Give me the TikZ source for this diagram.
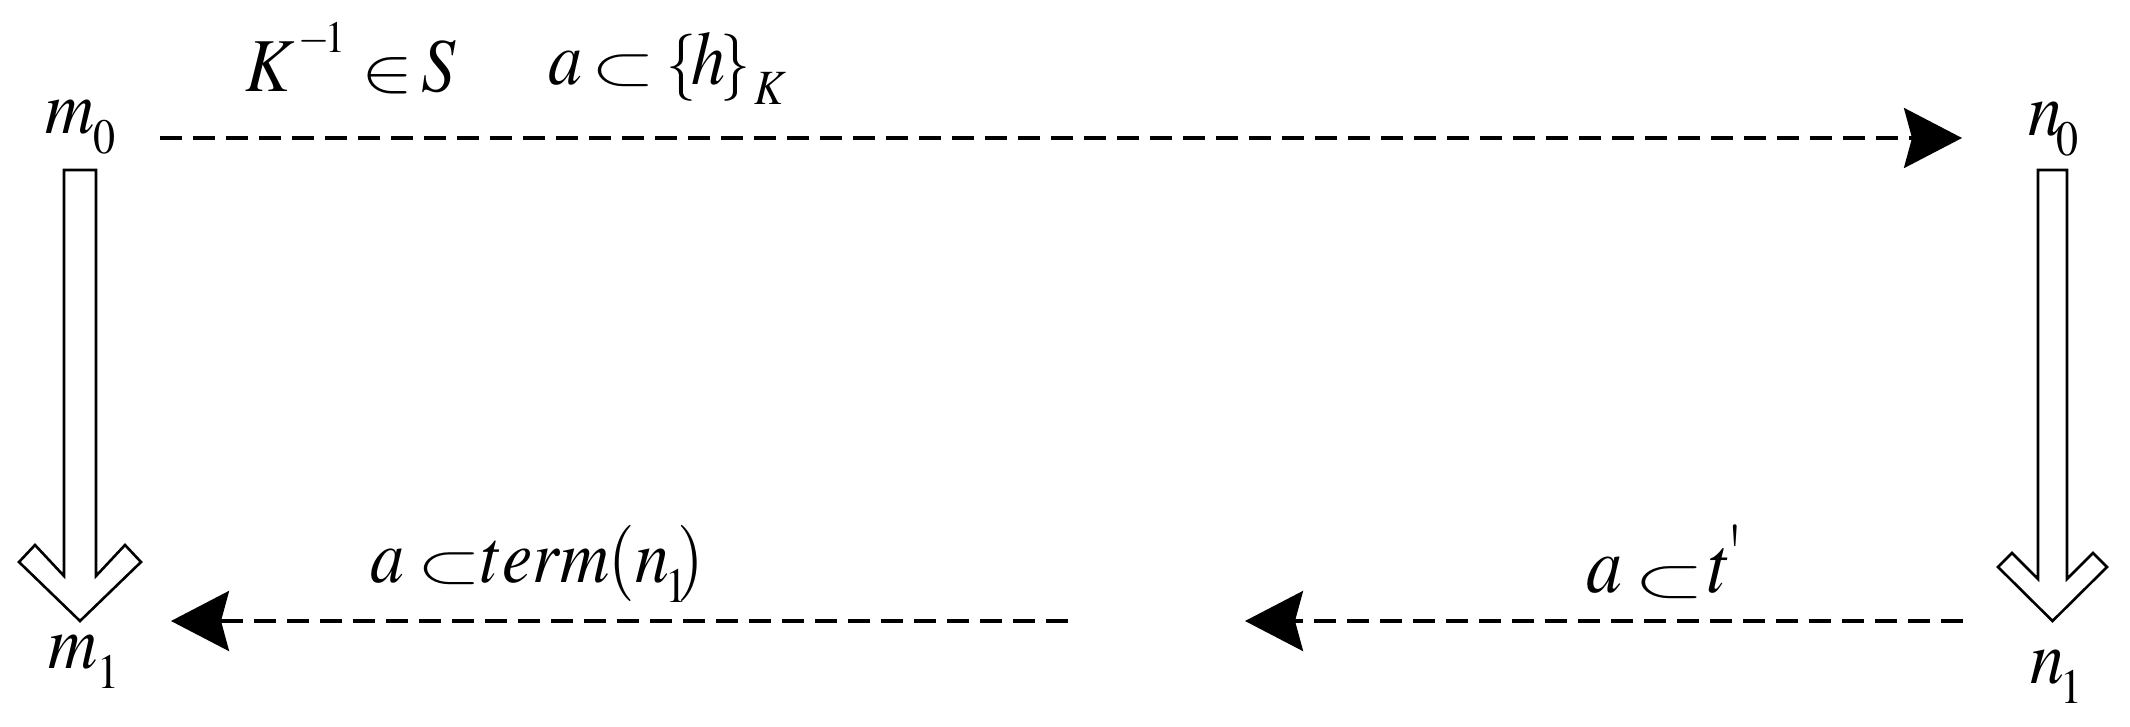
\documentclass[tikz,border=0pt]{standalone}
\usepackage{mathptmx}
\usepackage{graphicx}
\usetikzlibrary{arrows.meta}
\newcommand\mainsz{\fontsize{68}{80}\selectfont}
\newcommand\subsz{\fontsize{44}{50}\selectfont}
\newcommand\at[2]{\makebox[0pt][l]{\hspace*{#1pt}#2}}
\newcommand\lbl[1]{\scalebox{1}[1.12]{\mainsz #1}}
\newcommand\lblb[1]{\scalebox{1}[1.12]{\fontsize{72}{84}\selectfont #1}}
\newcommand\dn[1]{\raisebox{-18pt}{\subsz$#1$}}
\newcommand\supr[1]{\raisebox{34pt}{\fontsize{40}{46}\selectfont$#1$}}
\newcommand\tick{\raisebox{11pt}{\fontsize{70}{80}\selectfont\textquotesingle}}
\newcommand\relin{\scalebox{1}[0.72]{\fontsize{78}{86}\selectfont$\in$}}
\newcommand\relsub{\scalebox{1}[0.6]{\fontsize{82}{90}\selectfont$\subset$}}
\newcommand\relsubb{\raisebox{-4pt}{\scalebox{1}[0.55]{\fontsize{90}{100}\selectfont$\subset$}}}
\tikzset{
  txt/.style={inner sep=0pt, anchor=base west},
  dasharrow/.style={line width=3.5pt, dash pattern=on 22pt off 11pt,
    -{Stealth[length=58pt,width=60pt,inset=8pt]}},
  blockarrow/.style={line width=2.6pt, line join=miter, fill=white}
}
\begin{document}
\begin{tikzpicture}[x=1pt,y=-1pt]
\useasboundingbox (0,0) rectangle (2130,726);
% state nodes
\node[txt] (m0) at (45,133) {\lbl{\at{0}{$m$}\at{48}{\dn{0}}}};
\node[txt] (n0) at (2028,135) {\lbl{\at{0}{$n$}\at{28}{\dn{0}}}};
\node[txt] (m1) at (48,668) {\lbl{\at{0}{$m$}\at{49}{\dn{1}}}};
\node[txt] (n1) at (2030,683) {\lbl{\at{0}{$n$}\at{30}{\dn{1}}}};
% labels
\node[txt] (lk) at (245,91) {\lbl{\at{0}{$K$}\at{53}{\supr{-}}\at{80}{\supr{1}}\at{116}{\relin}\at{176}{$S$}}};
\node[txt] (lh) at (548,84) {\lbl{\at{0}{$a$}\at{43}{\relsub}\at{118}{\fontsize{60}{70}\selectfont$\{$}\at{143}{$h$}\at{172}{\fontsize{60}{70}\selectfont$\}$}\at{206}{\dn{K}}}};
\node[txt] (lt) at (370,582) {\lbl{\at{0}{$a$}\at{47}{\relsub}\at{110}{$term$}\at{238}{$($}\at{265}{$n$}\at{295}{\dn{1}}\at{307}{$)$}}};
\node[txt] (lp) at (1586,592) {\lblb{\at{0}{$a$}\at{48}{\relsubb}\at{122}{$t$}\at{140}{\tick}}};
% connector end points
\coordinate (a0) at (160,138);
\coordinate (a1) at (1962,138);
\coordinate (b0) at (1068,621);
\coordinate (b1) at (171,621);
\coordinate (c0) at (1963,621);
\coordinate (c1) at (1245,621);
\draw[dasharrow] (a0) -- (a1);
\draw[dasharrow] (b0) -- (b1);
\draw[dasharrow] (c0) -- (c1);
% block arrows m0 -> m1, n0 -> n1
\draw[blockarrow] (64,170) -- (96,170) -- (96,576) -- (125,545) -- (141,562) -- (80,621) -- (19,562) -- (35,545) -- (64,576) -- cycle;
\draw[blockarrow] (2038,170) -- (2067,170) -- (2067,579) -- (2093,553) -- (2107,567) -- (2052.5,621) -- (1998,567) -- (2012,553) -- (2038,579) -- cycle;
\end{tikzpicture}
\end{document}
